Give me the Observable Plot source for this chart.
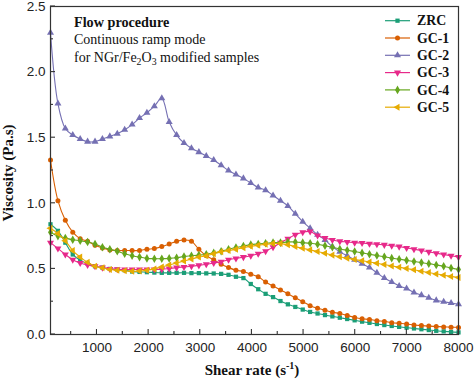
<!DOCTYPE html>
<html><head><meta charset="utf-8">
<script src="https://cdn.jsdelivr.net/npm/d3@7"></script>
<script src="https://cdn.jsdelivr.net/npm/@observablehq/plot@0.6"></script>
<style>body{margin:0;background:#fff} #chart{width:474px;height:380px}</style>
</head><body><div id="chart"></div>
<script>
// ---- data ----
const shear = [100,244,387,531,675,818,962,1105,1249,1393,1536,1680,1824,1967,2111,2255,2398,2542,2685,2829,2973,3116,3260,3404,3547,3691,3835,3978,4122,4265,4409,4553,4696,4840,4984,5127,5271,5415,5558,5702,5845,5989,6133,6276,6420,6564,6707,6851,6995,7138,7282,7425,7569,7713,7856,8000];
const seriesNames = ["ZRC","GC-1","GC-2","GC-3","GC-4","GC-5"];
const zrc = [0.84,0.79,0.70,0.61,0.565,0.54,0.52,0.51,0.50,0.495,
  0.49,0.48,0.477,0.475,0.472,0.47,0.47,0.47,0.47,0.468,
  0.468,0.466,0.465,0.462,0.455,0.44,0.43,0.385,0.345,0.31,
  0.285,0.255,0.23,0.21,0.19,0.172,0.16,0.148,0.138,0.128,
  0.118,0.108,0.098,0.089,0.08,0.072,0.065,0.058,0.052,0.046,
  0.04,0.034,0.028,0.024,0.02,0.016];
const gc1 = [1.33,1.02,0.87,0.78,0.73,0.71,0.68,0.66,0.645,0.64,
  0.64,0.64,0.64,0.65,0.655,0.67,0.69,0.71,0.72,0.71,
  0.65,0.60,0.57,0.535,0.51,0.49,0.48,0.46,0.44,0.40,
  0.37,0.34,0.31,0.28,0.25,0.22,0.20,0.185,0.17,0.16,
  0.145,0.13,0.12,0.115,0.105,0.10,0.09,0.085,0.08,0.072,
  0.068,0.064,0.061,0.058,0.056,0.054];
const gc2 = [2.30,1.76,1.57,1.52,1.49,1.47,1.47,1.49,1.51,1.53,
  1.56,1.60,1.65,1.69,1.74,1.80,1.62,1.52,1.46,1.42,
  1.39,1.36,1.33,1.29,1.25,1.22,1.19,1.155,1.12,1.10,
  1.06,1.02,0.98,0.92,0.86,0.81,0.76,0.72,0.67,0.63,
  0.60,0.57,0.54,0.51,0.47,0.43,0.40,0.37,0.35,0.32,
  0.30,0.28,0.26,0.25,0.24,0.23];
const gc3 = [0.70,0.655,0.61,0.57,0.545,0.53,0.52,0.51,0.50,0.497,
  0.495,0.495,0.495,0.495,0.495,0.497,0.503,0.51,0.515,0.52,
  0.527,0.535,0.545,0.555,0.57,0.58,0.59,0.60,0.615,0.635,
  0.665,0.70,0.73,0.76,0.78,0.785,0.755,0.735,0.72,0.71,
  0.705,0.70,0.697,0.692,0.688,0.683,0.677,0.67,0.66,0.65,
  0.64,0.63,0.62,0.61,0.60,0.59];
const gc4 = [0.78,0.75,0.735,0.722,0.715,0.705,0.69,0.665,0.65,0.635,
  0.615,0.60,0.59,0.58,0.578,0.578,0.58,0.585,0.595,0.60,
  0.605,0.612,0.622,0.635,0.65,0.663,0.675,0.685,0.69,0.695,
  0.70,0.70,0.705,0.705,0.70,0.695,0.688,0.677,0.665,0.652,
  0.642,0.632,0.622,0.612,0.602,0.592,0.582,0.574,0.565,0.556,
  0.548,0.54,0.53,0.52,0.507,0.495];
const gc5 = [0.81,0.77,0.715,0.64,0.59,0.55,0.52,0.508,0.495,0.49,
  0.485,0.482,0.484,0.49,0.50,0.515,0.53,0.545,0.56,0.575,
  0.59,0.60,0.615,0.63,0.64,0.65,0.662,0.672,0.68,0.687,
  0.693,0.693,0.685,0.67,0.657,0.645,0.632,0.62,0.605,0.592,
  0.582,0.572,0.563,0.553,0.543,0.533,0.523,0.513,0.503,0.493,
  0.482,0.472,0.462,0.452,0.443,0.435];
const xTicks = [1000,2000,3000,4000,5000,6000,7000,8000];
const xMinor = [500,1500,2500,3500,4500,5500,6500,7500];
const yTicks = [0,0.5,1,1.5,2,2.5];
const yMinor = [0.25,0.75,1.25,1.75,2.25];

// ---- styling ----
const values = [zrc,gc1,gc2,gc3,gc4,gc5];
const colors = ["#1B9E77","#D95F02","#7570B3","#E7298A","#66A61E","#E6AB02"];
const sqrt3 = Math.sqrt(3);
const triDown = {draw(ctx,size){const y=-Math.sqrt(size/(sqrt3*3)); ctx.moveTo(0,-2*y); ctx.lineTo(-sqrt3*y,y); ctx.lineTo(sqrt3*y,y); ctx.closePath();}};
const triLeft = {draw(ctx,size){const y=-Math.sqrt(size/(sqrt3*3)); ctx.moveTo(2*y,0); ctx.lineTo(-y,-sqrt3*y); ctx.lineTo(-y,sqrt3*y); ctx.closePath();}};
const symbols = [d3.symbolSquare, d3.symbolCircle, d3.symbolTriangle, triDown, d3.symbolDiamond, triLeft];
const radii = [2.4,2.5,2.6,2.6,2.6,2.6];

const marks = [];
seriesNames.forEach((name,k)=>{
  const d = shear.map((x,i)=>({x, y: values[k][i], s: name}));
  marks.push(Plot.line(d,{x:"x",y:"y",stroke:colors[k],strokeWidth:1.1,curve:"catmull-rom"}));
  marks.push(Plot.dot(d,{x:"x",y:"y",fill:colors[k],stroke:"none",symbol:symbols[k],r:radii[k]}));
});
marks.push(Plot.axisX(xTicks,{tickSize:0,tickPadding:8,tickFormat:d=>String(d),fontSize:13.5}));
marks.push(Plot.axisY(yTicks,{tickSize:0,tickPadding:5,tickFormat:d3.format(".1f"),fontSize:13.5}));
marks.push(Plot.frame({stroke:"#333",strokeWidth:1.2}));

const plot = Plot.plot({
  width:474, height:380,
  marginLeft:50, marginRight:16, marginTop:6, marginBottom:46,
  x:{domain:[100,8000], label:null},
  y:{domain:[0,2.5], label:null},
  style:{fontFamily:"'Liberation Sans', Arial, sans-serif", color:"#222", background:"white", overflow:"visible"},
  marks
});
document.getElementById("chart").appendChild(plot);

// ---- inward ticks, titles, annotation, legend ----
const svg = d3.select(plot);
const sx = plot.scale("x"), sy = plot.scale("y");
const bottom = sy.apply(0), left = sx.apply(100);
const g = svg.append("g").attr("stroke","#333").attr("stroke-width",1.1);
xTicks.forEach(v=>g.append("line").attr("x1",sx.apply(v)).attr("x2",sx.apply(v)).attr("y1",bottom).attr("y2",bottom-5));
xMinor.forEach(v=>g.append("line").attr("x1",sx.apply(v)).attr("x2",sx.apply(v)).attr("y1",bottom).attr("y2",bottom-3));
yTicks.forEach(v=>g.append("line").attr("y1",sy.apply(v)).attr("y2",sy.apply(v)).attr("x1",left).attr("x2",left+5));
yMinor.forEach(v=>g.append("line").attr("y1",sy.apply(v)).attr("y2",sy.apply(v)).attr("x1",left).attr("x2",left+3));

const serif = "'Liberation Serif', 'Times New Roman', serif";
svg.append("text").attr("transform","translate(12.5,173) rotate(-90)")
  .attr("text-anchor","middle").attr("font-family",serif).attr("font-weight","bold").attr("font-size",15).attr("fill","#111")
  .text("Viscosity (Pa.s)");
const xt = svg.append("text").attr("x",252).attr("y",375).attr("text-anchor","middle")
  .attr("font-family",serif).attr("font-weight","bold").attr("font-size",15).attr("fill","#111");
xt.append("tspan").text("Shear rate (s");
xt.append("tspan").attr("dy",-6).attr("font-size",10).text("-1");
xt.append("tspan").attr("dy",6).text(")");

const ann = svg.append("g").attr("font-family",serif).attr("fill","#111").attr("text-anchor","start");
ann.append("text").attr("x",74).attr("y",26.5).attr("font-weight","bold").attr("font-size",14.2).text("Flow procedure");
ann.append("text").attr("x",74).attr("y",44).attr("font-size",14).text("Continuous ramp mode");
const t3 = ann.append("text").attr("x",74).attr("y",61.5).attr("font-size",14);
t3.append("tspan").text("for NGr/Fe");
t3.append("tspan").attr("dy",3).attr("font-size",9.8).text("2");
t3.append("tspan").attr("dy",-3).text("O");
t3.append("tspan").attr("dy",3).attr("font-size",9.8).text("3");
t3.append("tspan").attr("dy",-3).text(" modified samples");

const leg = svg.append("g").attr("text-anchor","start");
seriesNames.forEach((name,k)=>{
  const y = 20.7 + 17.3*k;
  leg.append("line").attr("x1",385).attr("x2",410).attr("y1",y).attr("y2",y).attr("stroke",colors[k]).attr("stroke-width",1.2);
  leg.append("path").attr("transform",`translate(397.5,${y})`).attr("d",d3.symbol().type(symbols[k]).size(Math.PI*radii[k]*radii[k])()).attr("fill",colors[k]);
  leg.append("text").attr("x",417).attr("y",y+4.6).attr("font-family",serif).attr("font-weight","bold").attr("font-size",13.8).attr("fill","#111").text(name);
});
</script>
</body></html>
